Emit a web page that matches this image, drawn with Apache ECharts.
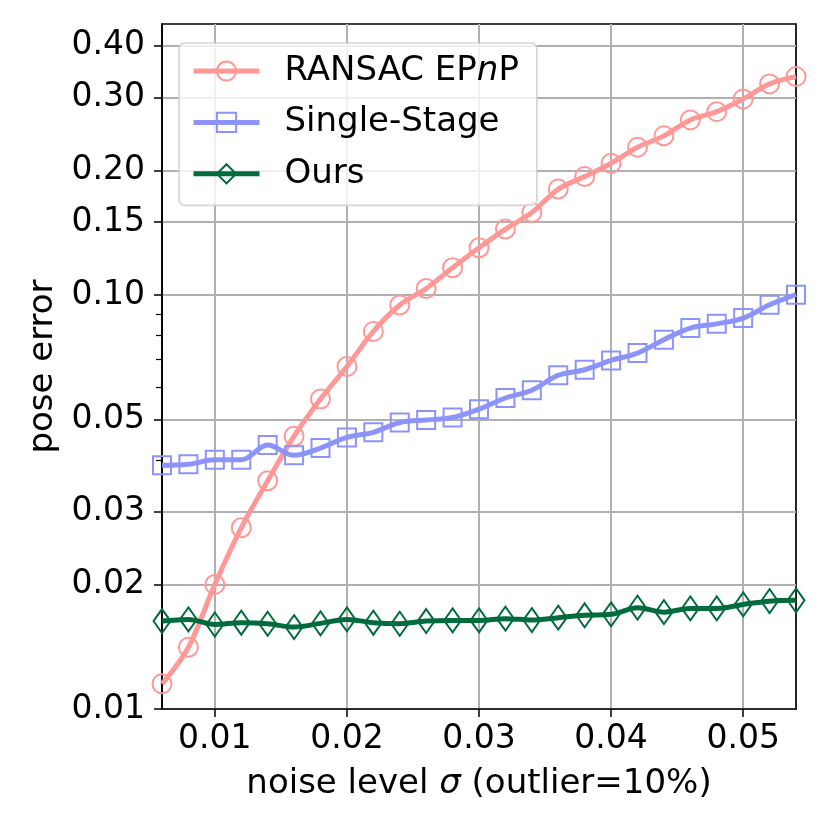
<!DOCTYPE html>
<html><head><meta charset="utf-8">
<script src="https://cdn.jsdelivr.net/npm/echarts@6/dist/echarts.min.js"></script>
<style>html,body{margin:0;padding:0;background:#fff}#c{width:830px;height:830px}</style>
</head><body><div id="c"></div>
<script>
const noiseLevels = [0.006,0.008,0.010,0.012,0.014,0.016,0.018,0.020,0.022,0.024,0.026,0.028,0.030,0.032,0.034,0.036,0.038,0.040,0.042,0.044,0.046,0.048,0.050,0.052,0.054];
const ransacEPnP = [0.0115,0.0141,0.0200,0.0274,0.0356,0.0456,0.0561,0.0672,0.0817,0.0946,0.1037,0.1164,0.1301,0.1443,0.1582,0.1803,0.1933,0.2082,0.2276,0.2424,0.2649,0.2773,0.2977,0.3236,0.3370];
const singleStage = [0.0388,0.0390,0.0400,0.0400,0.0434,0.0410,0.0427,0.0453,0.0466,0.0492,0.0499,0.0506,0.0530,0.0564,0.0589,0.0640,0.0660,0.0695,0.0724,0.0780,0.0832,0.0852,0.0880,0.0947,0.1002];
const ours = [0.01631,0.01646,0.01600,0.01616,0.01607,0.01577,0.01610,0.01646,0.01616,0.01607,0.01631,0.01637,0.01637,0.01653,0.01640,0.01662,0.01684,0.01693,0.01757,0.01714,0.01750,0.01750,0.01789,0.01822,0.01830];
const xTickValues = [0.01,0.02,0.03,0.04,0.05];
const yTickValues = [0.01,0.02,0.03,0.05,0.10,0.15,0.20,0.30,0.40];
const yMinorTickValues = [0.04,0.06,0.07,0.08,0.09];
const seriesNames = ['RANSAC EPnP','Single-Stage','Ours'];

const FONT = 'DejaVu Sans';
const LINE_W = 5;
const pairs = ys => noiseLevels.map((x, i) => [x, ys[i]]);

const chart = echarts.init(document.getElementById('c'), null, {renderer: 'canvas'});

function mkSeries(name, ys, color, symbol, size) {
  return {
    name: name, type: 'line', data: pairs(ys), xAxisIndex: 0, yAxisIndex: 0,
    smooth: 0.35, clip: false,
    symbol: symbol, symbolSize: size, showSymbol: true,
    lineStyle: {color: color, width: LINE_W},
    itemStyle: {color: 'rgba(255,255,255,0)', borderColor: color, borderWidth: 2},
    emphasis: {disabled: true},
    animation: false
  };
}

const option = {
  animation: false,
  backgroundColor: '#ffffff',
  grid: {left: 162, right: 34, top: 24, bottom: 121, show: true, borderColor: '#000', borderWidth: 1.7, outerBoundsMode: 'none', containLabel: false},
  legend: {
    left: 179, top: 43, orient: 'vertical',
    data: seriesNames,
    itemWidth: 66, itemHeight: 24, itemGap: 17.4,
    padding: [11, 18, 14.6, 12],
    backgroundColor: 'rgba(255,255,255,0.8)',
    borderColor: 'rgba(204,204,204,0.8)', borderWidth: 1.7, borderRadius: 6,
    lineStyle: {width: LINE_W},
    formatter: function (n) { return n === 'RANSAC EPnP' ? '{a|RANSAC EP}{i|n}{a|P}' : '{a|' + n + '}'; },
    textStyle: {
      fontFamily: FONT, fontSize: 34, color: '#000', padding: [0, 0, 0, 20], lineHeight: 24,
      rich: {a: {fontFamily: FONT, fontSize: 34, color: '#000', lineHeight: 24},
             i: {fontFamily: FONT, fontSize: 34, color: '#000', fontStyle: 'italic', lineHeight: 24}}
    },
    selectedMode: false
  },
  xAxis: {
    type: 'value', min: 0.006, max: 0.054,
    name: '{a|noise level }{i|σ}{a| (outlier=10%)}', nameLocation: 'middle', nameGap: 58,
    nameTextStyle: {fontFamily: FONT, fontSize: 34, color: '#000',
      rich: {a: {fontFamily: FONT, fontSize: 34, color: '#000'}, i: {fontFamily: FONT, fontSize: 34, color: '#000', fontStyle: 'italic'}}},
    axisLine: {show: true, lineStyle: {color: '#000', width: 1.7}},
    axisTick: {show: true, customValues: xTickValues, length: 8, lineStyle: {color: '#000', width: 1.5}},
    axisLabel: {show: true, customValues: xTickValues, margin: 14, fontFamily: FONT, fontSize: 33, color: '#000',
      formatter: v => Number(v).toFixed(2)},
    splitLine: {show: true, lineStyle: {color: '#b0b0b0', width: 2}}
  },
  yAxis: [{
    type: 'log', logBase: 10, min: 0.01, max: 0.4516, position: 'left',
    name: 'pose error', nameLocation: 'middle', nameGap: 100, nameRotate: 90,
    nameTextStyle: {fontFamily: FONT, fontSize: 34, color: '#000'},
    axisLine: {show: true, lineStyle: {color: '#000', width: 1.7}},
    axisTick: {show: true, customValues: yTickValues, length: 8, lineStyle: {color: '#000', width: 1.5}},
    axisLabel: {show: true, customValues: yTickValues, margin: 17, fontFamily: FONT, fontSize: 33, color: '#000',
      formatter: v => Number(v).toFixed(2)},
    splitLine: {show: true, lineStyle: {color: '#b0b0b0', width: 2}},
    minorTick: {show: false}, minorSplitLine: {show: false}
  }, {
    type: 'log', logBase: 10, min: 0.01, max: 0.4516, position: 'left', offset: 0,
    axisLine: {show: false},
    axisTick: {show: true, customValues: yMinorTickValues, length: 6, lineStyle: {color: '#000', width: 1.2}},
    axisLabel: {show: false},
    splitLine: {show: false}
  }],
  series: [
    mkSeries(seriesNames[0], ransacEPnP, '#ff9896', 'circle', 19),
    mkSeries(seriesNames[1], singleStage, '#8c94fc', 'rect', 18),
    mkSeries(seriesNames[2], ours, '#006b3c', 'diamond', [17, 24])
  ]
};
chart.setOption(option);
</script></body></html>
